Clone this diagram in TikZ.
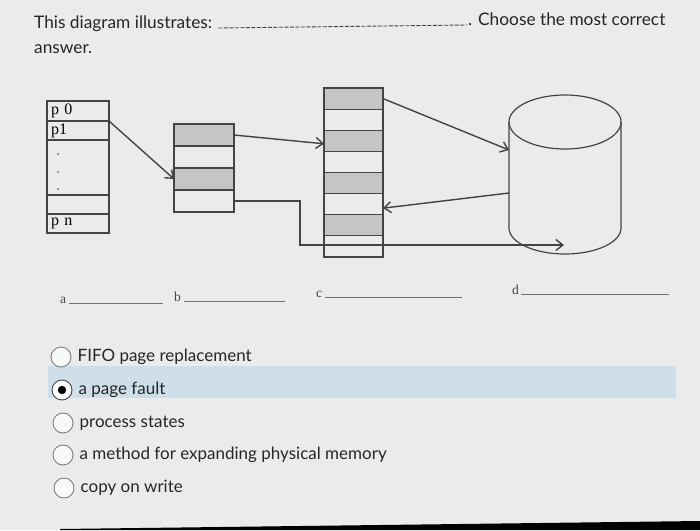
\documentclass[tikz,border=0pt]{standalone}
\usepackage{fontspec}
\setmainfont{Lato}
\newfontfamily\bookfont{Liberation Serif}
\usetikzlibrary{positioning, arrows.meta}

\begin{document}
\begin{tikzpicture}[x=1pt, y=-1pt,
  ptrow/.style={draw=inkgray, line width=1.2pt, inner sep=0pt, outer sep=0pt,
    minimum width=62pt, text width=54pt, align=left,
    font=\bookfont\fontsize{16}{16}\selectfont},
  frame/.style={draw=inkgray, line width=1.2pt, inner sep=0pt, outer sep=0pt,
    minimum width=#1, minimum height=22pt},
  frame/.default=60pt,
  used/.style={frame=#1, fill=cellgray},
  used/.default=60pt,
  link/.style={draw=inkgray, line width=1.4pt, -{Straight Barb[length=7pt, width=11pt]}},
  letter/.style={anchor=base west, inner sep=0pt, text=inkgray,
    font=\bookfont\fontsize{13.5}{13.5}\selectfont},
  blank/.style={draw=lightink, line width=1pt},
  radio/.style={circle, draw=ringgray, fill=white!70!bgcolor, line width=0.9pt,
    minimum size=20pt, inner sep=0pt},
  opt/.style={inner sep=0pt, right=6pt of #1, text=textgray,
    font=\fontsize{17}{20}\selectfont},
  ask/.style={anchor=base west, inner sep=0pt, text=textgray,
    font=\fontsize{17.3}{20}\selectfont}]

% Define colors
\definecolor{bgcolor}{RGB}{233, 235, 236}
\definecolor{cellgray}{RGB}{196, 198, 198}
\definecolor{inkgray}{RGB}{68, 68, 68}
\definecolor{lightink}{RGB}{115, 115, 115}
\definecolor{ringgray}{RGB}{125, 125, 125}
\definecolor{textgray}{RGB}{38, 38, 38}
\definecolor{pickblue}{RGB}{207, 223, 233}

% Background
\fill[bgcolor] (0, 0) rectangle (700, 530);
\useasboundingbox (0, 0) rectangle (700, 530);

% Question text
\node[ask] (q1) at (34, 28) {This diagram illustrates:};
\node[ask] (q2) at (468, 25) {. Choose the most correct};
\node[ask] (q3) at (34, 53) {answer.};
\draw[draw=inkgray, line width=0.9pt, dash pattern=on 4pt off 1.5pt] ([xshift=6pt]q1.base east) -- ([xshift=-1pt]q2.base west);

% Page table
\node[ptrow, minimum height=20pt, anchor=north west] (pt0) at (47, 101) {p 0};
\node[ptrow, minimum height=19pt, below=0pt of pt0] (pt1) {p1};
\node[ptrow, minimum height=55pt, below=0pt of pt1] (ptdots) {};
\node[ptrow, minimum height=19pt, below=0pt of ptdots] (ptgap) {};
\node[ptrow, minimum height=19pt, below=0pt of ptgap] (ptn) {p n};
\foreach \y in {154, 172, 189}
  \fill[inkgray] (58, \y) circle (0.8pt);

% Page frames
\foreach \i/\s in {1/used, 2/frame, 3/used, 4/frame}
  \node[\s, anchor=north west] (mid\i) at (174, {124 + 22*(\i - 1)}) {};

% Physical memory
\foreach \i/\s in {1/used, 2/frame, 3/used, 4/frame, 5/used, 6/frame, 7/used, 8/frame}
  \node[\s=59pt, minimum height=21.125pt, anchor=north west] (mem\i) at (324, {88 + 21.125*(\i - 1)}) {};

% Disk
\draw[inkgray, line width=1.2pt] (565, 122) ellipse [x radius=56, y radius=27];
\draw[inkgray, line width=1.2pt] (509, 122) -- (509, 228)
  arc [start angle=180, end angle=0, x radius=56, y radius=26] -- (621, 122);
\coordinate (diskin) at (509, 150);
\coordinate (diskout) at (509, 193);
\coordinate (diskbot) at (564, 245);

% Arrows
\draw[link] (pt1.north east) -- (mid3.west);
\draw[link] (mid1.east) -- ([yshift=-3pt]mem3.west);
\draw[link] (mem1.east) -- (diskin);
\draw[link] (diskout) -- ([yshift=-4pt]mem6.east);
\draw[link] (mid4.east) -- ++(66, 0) |- (diskbot);

% Answer blanks
\node[letter] (la) at (60, 303) {a};
\node[letter] (lb) at (174, 301) {b};
\node[letter] (lc) at (316, 297) {c};
\node[letter] (ld) at (512, 294) {d};
\draw[blank] ([xshift=3pt]la.base east) -- ++(94, 0);
\draw[blank] ([xshift=3pt]lb.base east) -- ++(101, 0);
\draw[blank] ([xshift=3pt]lc.base east) -- ++(137, 0);
\draw[blank] ([xshift=2pt]ld.base east) -- ++(148, 0);

% Choices
\fill[pickblue] (48, 366) rectangle (676, 398);
\node[radio] (r1) at (61, 357) {};
\node[radio, draw=inkgray, fill=white] (r2) at (62, 390) {};
\fill[black] (r2) circle (4.2pt);
\node[radio] (r3) at (63, 423) {};
\node[radio] (r4) at (63, 455) {};
\node[radio] (r5) at (64, 488) {};
\node[opt=r1] (c1) {FIFO page replacement};
\node[opt=r2] (c2) {a page fault};
\node[opt=r3] (c3) {process states};
\node[opt=r4] (c4) {a method for expanding physical memory};
\node[opt=r5] (c5) {copy on write};

% Bottom edge
\fill[black] (60, 529) -- (700, 521) -- (700, 530) -- (60, 530) -- cycle;

\end{tikzpicture}
\end{document}
